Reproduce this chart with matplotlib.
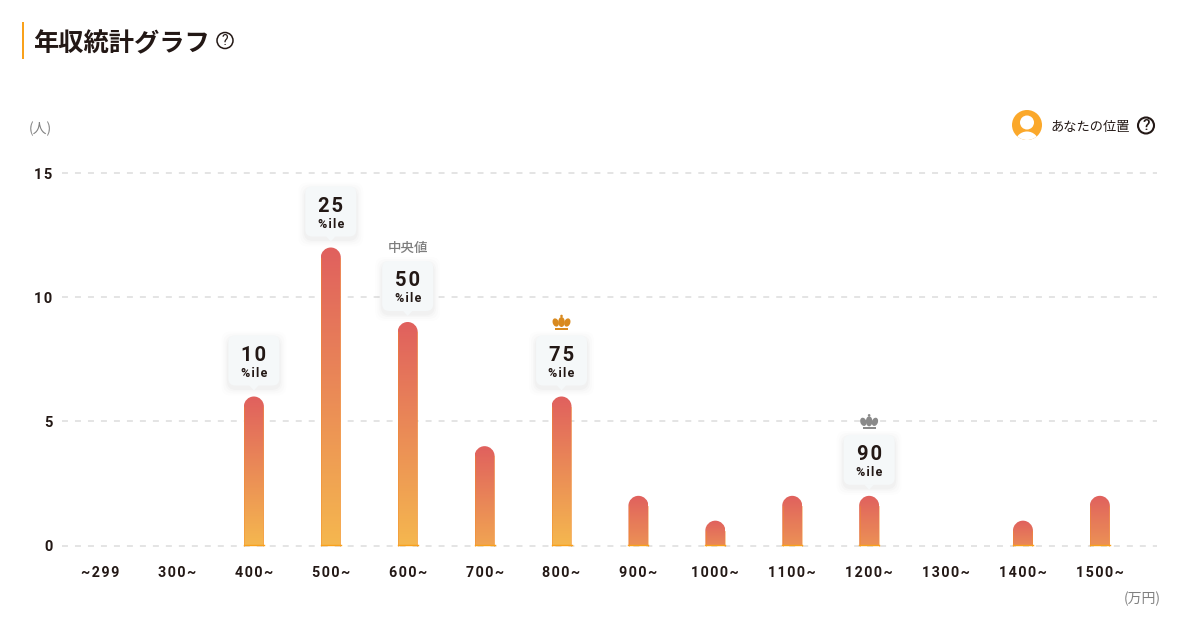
import matplotlib
matplotlib.use('Agg')
import matplotlib.pyplot as plt
import numpy as np
from matplotlib.path import Path
from matplotlib.patches import FancyBboxPatch, PathPatch, Circle, Rectangle, Polygon, Ellipse
from matplotlib.colors import LinearSegmentedColormap

plt.rcParams['font.family'] = ['Noto Sans CJK JP', 'DejaVu Sans']

labels = ['~299', '300~', '400~', '500~', '600~', '700~', '800~', '900~', '1000~', '1100~', '1200~', '1300~', '1400~', '1500~']
counts = [0, 0, 6, 12, 9, 4, 6, 2, 1, 2, 2, 0, 1, 2]
yticks = [0, 5, 10, 15]
# tooltip: bar index, percentile
pct_idx = [2, 3, 4, 6, 10]
pct_val = ['10', '25', '50', '75', '90']

W, H = 1192, 625
DARK = '#231815'
NUM_FONT = ['Roboto', 'DejaVu Sans']
fig = plt.figure(figsize=(W / 100, H / 100), dpi=100, facecolor='white')


def spaced(s):
    # css letter-spacing, hair space between the characters
    return '\u200a'.join(s)


# overlay in pixel coordinates for the decorations
ov = fig.add_axes([0, 0, 1, 1], zorder=3)
ov.set_xlim(0, W)
ov.set_ylim(H, 0)
ov.axis('off')

ax = fig.add_axes([62 / W, 1 - 545.5 / H, (1157 - 62) / W, (545.5 - 173) / H], zorder=2)
ax.patch.set_alpha(0)
ax.set_xlim(-0.495, 13.743)
ax.set_ylim(0, 15)
for s in ax.spines.values():
    s.set_visible(False)
ax.set_yticks(yticks)
ax.set_xticks(range(len(labels)))
ax.set_xticklabels([spaced(t) for t in labels], family=NUM_FONT, fontweight='bold', fontsize=10.3, color=DARK)
ax.set_yticklabels([spaced(str(v)) for v in yticks], family=NUM_FONT, fontweight='bold', fontsize=10.5, color=DARK)
ax.tick_params(length=0)
ax.tick_params(axis='x', pad=15)
ax.tick_params(axis='y', pad=7)
for v in yticks:
    ax.axhline(v, color='#dcdcdc', lw=1.1, dashes=(3.9, 4.6), zorder=1, clip_on=False)

cmap = LinearSegmentedColormap.from_list('bar', ['#f5b74f', '#e0605e'])
grad = np.linspace(0, 1, 256).reshape(-1, 1)
bw = 20
r = 10


def to_px(x, y):
    p = ax.transData.transform((x, y))
    return p[0], H - p[1]


for i, c in enumerate(counts):
    if c == 0:
        continue
    cx, ytop = to_px(i, c)
    _, y0 = to_px(i, 0)
    x0, x1 = cx - bw / 2, cx + bw / 2
    k = 0.5523 * r
    verts = [(x0, y0), (x0, ytop + r), (x0, ytop + r - k), (cx - k, ytop), (cx, ytop),
             (cx + k, ytop), (x1, ytop + r - k), (x1, ytop + r), (x1, y0), (x0, y0)]
    codes = [Path.MOVETO, Path.LINETO, Path.CURVE4, Path.CURVE4, Path.CURVE4,
             Path.CURVE4, Path.CURVE4, Path.CURVE4, Path.LINETO, Path.CLOSEPOLY]
    shape = PathPatch(Path(verts, codes), transform=ov.transData, fc='none', ec='none')
    ov.add_patch(shape)
    # gradient runs over a full bar, short bars stop part way
    frac = min(1.0, 0.35 + c / 6 * 0.65)
    sub = grad[grad[:, 0] >= 1 - frac].reshape(-1, 1)
    im = ov.imshow(sub, cmap=cmap, vmin=0, vmax=1, origin='lower', aspect='auto',
                   extent=(x0, x1, y0, ytop), zorder=2)
    im.set_clip_path(shape)
    ov.plot([x0 + 0.5, x0 + 0.5], [y0, ytop + r], color='#f58a25', lw=0.6, alpha=0.5, zorder=2.1)
    ov.plot([x1 - 0.5, x1 - 0.5], [y0, ytop + r], color='#f58a25', lw=0.6, alpha=0.5, zorder=2.1)
    ov.plot([x0, x1], [y0 - 0.5, y0 - 0.5], color='#f9a11b', lw=1, zorder=2.1)
ov.set_xlim(0, W)
ov.set_ylim(H, 0)


def tooltip(cx, ytop, val):
    bw2, bh = 51, 50
    bx = cx - bw2 / 2
    by = ytop - 11 - bh
    for g, a in [(7, 0.008), (5, 0.011), (3, 0.015), (1.5, 0.02)]:
        ov.add_patch(FancyBboxPatch((bx - g + 7, by - g + 10), bw2 + 2 * g - 14, bh + 2 * g - 14,
                                    boxstyle='round,pad=7,rounding_size=9', fc='black', ec='none',
                                    alpha=a, zorder=3))
    ov.add_patch(FancyBboxPatch((bx + 7, by + 7), bw2 - 14, bh - 14, boxstyle='round,pad=7,rounding_size=7',
                                fc='#f5f8f9', ec='none', zorder=3.2))
    ov.add_patch(Polygon([(cx - 5, by + bh - 0.5), (cx + 5, by + bh - 0.5), (cx, by + bh + 5)],
                         fc='#f5f8f9', ec='none', zorder=3.2))
    ov.text(cx, by + 19.5, spaced(val), ha='center', va='center', family=NUM_FONT, fontweight='bold',
            fontsize=14.5, color=DARK, zorder=4)
    ov.text(cx, by + 37.5, spaced('%ile'), ha='center', va='center', family=NUM_FONT, fontweight='bold',
            fontsize=9, color=DARK, zorder=4)
    return by


def crown(cx, cy, col):
    for dx, ang in [(-5.8, -20), (5.8, 20)]:
        ov.add_patch(Ellipse((cx + dx, cy + 1), 6, 8.5, angle=ang, fc=col, ec='none', zorder=4))
    ov.add_patch(Ellipse((cx, cy + 0.5), 6.5, 10, fc=col, ec='none', zorder=4))
    ov.add_patch(Circle((cx, cy - 5.5), 1.3, fc=col, ec='none', zorder=4))
    ov.add_patch(Rectangle((cx - 6.5, cy + 6.5), 13, 1.5, fc=col, ec='none', zorder=4))


for i, val in zip(pct_idx, pct_val):
    cx, ytop = to_px(i, counts[i])
    by = tooltip(cx, ytop, val)
    if val == '50':
        ov.text(cx, by - 13.5, '中央値', ha='center', va='center', fontsize=9.7, color='#7d7d7d',
                fontweight='medium', zorder=4)
    if val == '75':
        crown(cx, by - 14, '#d98a1f')
    if val == '90':
        crown(cx, by - 14, '#8a8a8a')


def help_icon(cx, cy, rad, lw, fs, weight):
    ov.add_patch(Circle((cx, cy), rad, fc='white', ec=DARK, lw=lw, zorder=4))
    ov.text(cx, cy + 0.5, '?', ha='center', va='center', family='Roboto', fontweight=weight,
            fontsize=fs, color=DARK, zorder=5)


# title block
ov.add_patch(Rectangle((21.7, 22), 2.5, 37, fc='#f9a11b', ec='none'))
ov.text(33.5, 43.5, '年収統計グラフ', ha='left', va='center', fontsize=18.2, fontweight='bold', color=DARK)
help_icon(225, 40.5, 8, 1.1, 10, 'normal')

# axis units
ov.text(40, 128.5, '(人)', ha='center', va='center', fontsize=10, color='#808080')
ov.text(1142, 599, '(万円)', ha='center', va='center', fontsize=10, color='#808080')

# legend
av = Circle((1027, 125), 15, fc='#fba82a', ec='none', zorder=4)
ov.add_patch(av)
head = Circle((1027, 122.5), 7, fc='white', ec='none', zorder=5)
ov.add_patch(head)
body = Circle((1027, 143.5), 12, fc='white', ec='none', zorder=5)
ov.add_patch(body)
body.set_clip_path(av)
ov.text(1051, 127.5, 'あなたの位置', ha='left', va='center', fontsize=9.5, color=DARK, zorder=5)
help_icon(1146, 125.5, 8, 1.5, 11, 'medium')

fig.savefig('out.png', dpi=100, facecolor='white')
